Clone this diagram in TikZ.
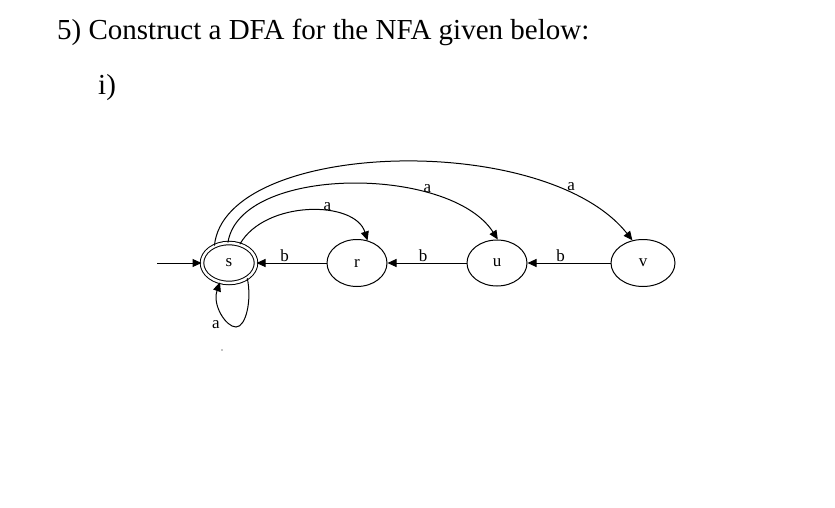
\documentclass[tikz,border=0pt]{standalone}
\usepackage{fontspec}
\setmainfont{Liberation Serif}
\usetikzlibrary{arrows.meta,shapes.geometric}
\begin{document}
\begin{tikzpicture}[x=1pt,y=-1pt,
  st/.style={draw,ellipse,inner sep=0pt,line width=1pt,font=\fontsize{17}{17}\selectfont},
  lab/.style={font=\fontsize{17}{17}\selectfont,inner sep=1pt},
  edge/.style={draw,-{Triangle[length=9pt,width=8pt]},line width=1pt}]
\useasboundingbox (0,0) rectangle (835,508);
\node[anchor=base west,font=\fontsize{29}{29}\selectfont,inner sep=0] (t) at (57,40) {5) Construct a DFA for the NFA given below:};
\node[anchor=base west,font=\fontsize{29}{29}\selectfont,inner sep=0] (i) at (98,95) {i)};
\node[st,minimum width=54pt,minimum height=40pt,double,double distance=2.5pt] (s) at (229,263) {s};
\node[st,minimum width=60pt,minimum height=47pt] (r) at (357,263) {r};
\node[st,minimum width=60pt,minimum height=46pt] (u) at (497,263) {u};
\node[st,minimum width=64pt,minimum height=47pt] (v) at (643,263) {v};
\coordinate (init) at (157,263);
\draw[edge] (init) -- (s);
\draw[edge] (r) -- node[lab,above,pos=0.6]{b} (s);
\draw[edge] (u) -- node[lab,above,pos=0.55]{b} (r);
\draw[edge] (v) -- node[lab,above,pos=0.6]{b} (u);
\draw[edge] (s.60) .. controls (265,200) and (355,200) .. node[lab,pos=0.62,above]{a} (r.65);
\draw[edge] (s.93) .. controls (240,165) and (450,165) .. node[lab,pos=0.72,above]{a} (u.88);
\draw[edge] (s.130) .. controls (225,140) and (545,130) .. node[lab,pos=0.82,above right]{a} (v.115);
\draw[edge] (s.-40) .. controls (252,300) and (246,327) .. (236,327) .. controls (226,327) and (212,305) .. (s.-115);
\node[lab] (la) at (216,325) {a};
\fill (222,350) circle (0.7);
\end{tikzpicture}
\end{document}
